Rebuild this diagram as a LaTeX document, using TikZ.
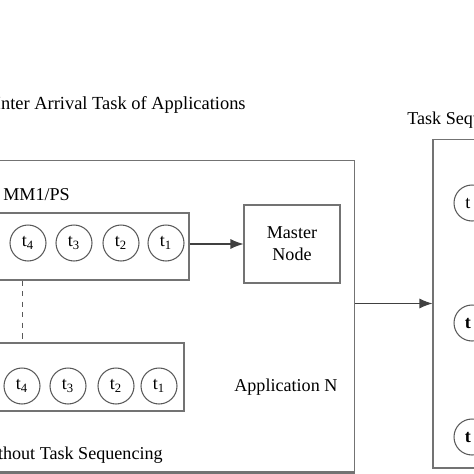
\documentclass[tikz,border=0pt]{standalone}
\usepackage{fontspec}
\setmainfont{Liberation Serif}
\usetikzlibrary{positioning, arrows.meta}

\begin{document}
\begin{tikzpicture}[
        x=0.02cm, y=-0.02cm,
        every node/.style={font=\fontsize{10.3}{12.5}\selectfont},
        frame/.style={rectangle, draw=black!55, line width=0.6pt, inner sep=0pt},
        task/.style={circle, draw=black!65, line width=0.6pt, minimum size=0.72cm, inner sep=0pt},
        caption/.style={inner sep=0pt},
        arrow/.style={draw=black!75, line width=0.6pt, -{Latex[length=2.6mm, width=2mm]}}
    ]
    \useasboundingbox (0,0) rectangle (474,474);
    \clip (0,0) rectangle (474,474);

    % boxes
    \node[frame, minimum width=7.7cm, minimum height=6.24cm] (outer) at (162.5,316) {};
    \node[frame, minimum width=4.38cm, minimum height=1.34cm] (qup) at (79.5,246.5) {};
    \node[frame, minimum width=4.28cm, minimum height=1.36cm] (qlow) at (77,377) {};
    \node[frame, minimum width=1.92cm, minimum height=1.56cm, align=center] (master) at (292,244) {Master\\Node};
    \node[frame, minimum width=1.74cm, minimum height=6.58cm] (tseq) at (476.5,303.5) {};
    \draw[black!55, line width=2pt] (outer.south west) -- (outer.south east);

    % tasks
    \foreach \i/\x in {1/166, 2/121, 3/74, 4/28}
        \node[task] (u\i) at (\x,243) {t\textsubscript{\i}};
    \foreach \i/\x in {1/159, 2/116, 3/68, 4/22}
        \node[task] (l\i) at (\x,386) {t\textsubscript{\i}};
    \foreach \i/\y in {1/203, 2/323, 3/437}
        \node[task] (s\i) at (472,\y) {};
    \node[caption] at ([xshift=-0.08cm]s1) {t};
    \node[caption] at ([xshift=-0.08cm]s2) {\textbf{t}};
    \node[caption] at ([xshift=-0.08cm]s3) {\textbf{t}};

    % labels
    \node[caption, anchor=base east, font=\fontsize{10.5}{12.5}\selectfont] (arrival) at (246,109) {Inter Arrival Task of Applications};
    \node[caption, anchor=base west] (mm1) at (3,200) {MM1/PS};
    \node[caption, anchor=base west] (appn) at (234,391) {Application N};
    \node[caption, anchor=base east] (without) at (163,459) {Without Task Sequencing};
    \node[caption, anchor=base west] (withseq) at (407,124) {Task Sequencing};

    \draw[arrow] (qup.east |- master.west) -- (master.west);
    \draw[arrow] (outer.east |- tseq.west) -- (tseq.west);
    \draw[black!65, line width=0.5pt, dashed] (l4 |- qup.south) -- (l4 |- qlow.north);
\end{tikzpicture}
\end{document}
